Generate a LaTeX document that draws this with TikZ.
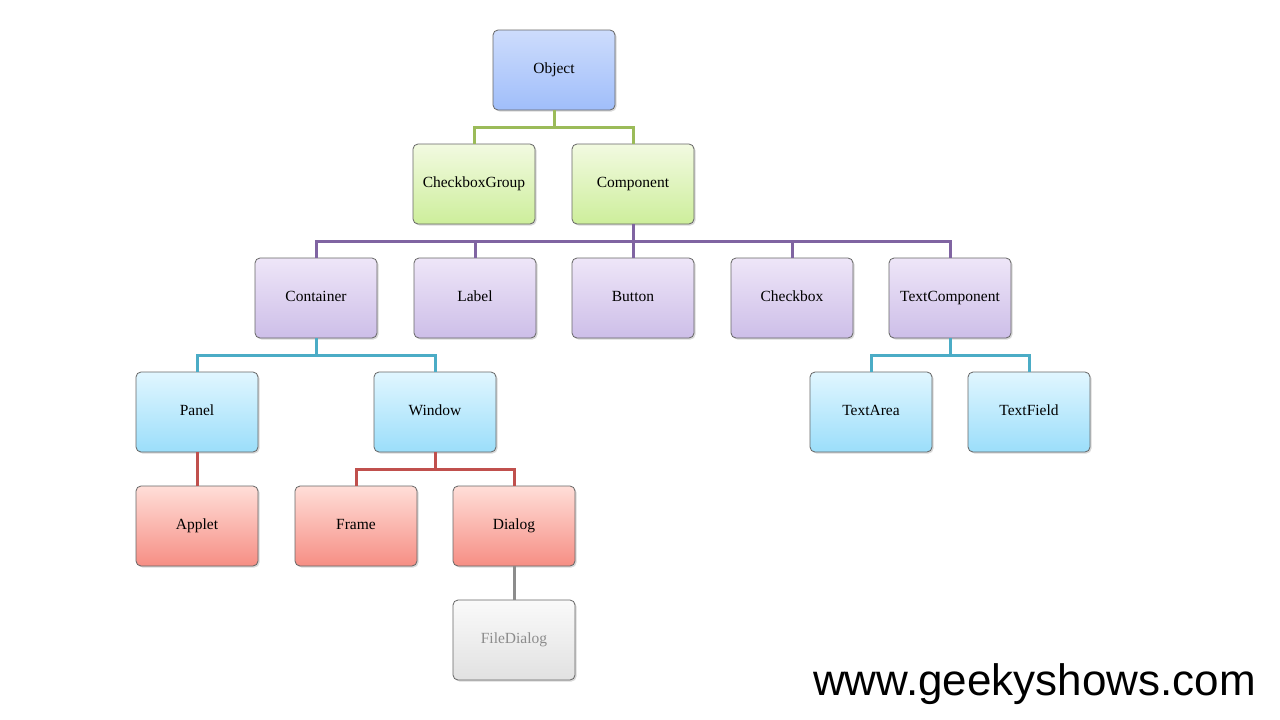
\documentclass[tikz,border=0pt]{standalone}
\usepackage{fontspec}
\setmainfont{Liberation Serif}
\newfontfamily\webfont{Liberation Sans}
\definecolor{lnG}{RGB}{155,187,89}
\definecolor{lnP}{RGB}{128,100,162}
\definecolor{lnT}{RGB}{75,172,198}
\definecolor{lnR}{RGB}{192,80,77}
\definecolor{lnK}{RGB}{140,140,140}
\usetikzlibrary{shadows}
\tikzset{
 box/.style={draw=black!60,line width=0.8pt,rounded corners=5pt,minimum width=122pt,minimum height=80pt,font=\fontsize{15.5}{18}\selectfont,inner sep=0pt,text height=10.5pt,text depth=3.5pt,drop shadow={opacity=0.3,shadow xshift=1.5pt,shadow yshift=-1.5pt}},
 bl/.style={box,top color={rgb,255:red,205;green,220;blue,252},bottom color={rgb,255:red,160;green,190;blue,250}},
 gr/.style={box,top color={rgb,255:red,242;green,250;blue,225},bottom color={rgb,255:red,205;green,238;blue,155}},
 pu/.style={box,top color={rgb,255:red,238;green,230;blue,248},bottom color={rgb,255:red,205;green,190;blue,232}},
 cy/.style={box,top color={rgb,255:red,225;green,246;blue,255},bottom color={rgb,255:red,155;green,222;blue,250}},
 rd/.style={box,top color={rgb,255:red,255;green,222;blue,216},bottom color={rgb,255:red,246;green,142;blue,132}},
 gy/.style={box,top color={rgb,255:red,250;green,250;blue,250},bottom color={rgb,255:red,225;green,225;blue,225},text=black!45},
 ln/.style={line width=3pt}}
\begin{document}
\begin{tikzpicture}[x=1pt,y=-1pt]
\useasboundingbox[fill=white] (0,0) rectangle (1280,720);
\node[bl] (obj) at (554,70) {Object};
\node[gr] (cbg) at (474,184) {CheckboxGroup};
\node[gr] (comp) at (633,184) {Component};
\node[pu] (cont) at (316,298) {Container};
\node[pu] (lab) at (475,298) {Label};
\node[pu] (but) at (633,298) {Button};
\node[pu] (chk) at (792,298) {Checkbox};
\node[pu] (tc) at (950,298) {TextComponent};
\node[cy] (pan) at (197,412) {Panel};
\node[cy] (win) at (435,412) {Window};
\node[cy] (ta) at (871,412) {TextArea};
\node[cy] (tf) at (1029,412) {TextField};
\node[rd] (app) at (197,526) {Applet};
\node[rd] (fr) at (356,526) {Frame};
\node[rd] (dlg) at (514,526) {Dialog};
\node[gy] (fd) at (514,640) {FileDialog};
\draw[ln,lnG] (obj.south) -- ++(0,17) -| (cbg.north);
\draw[ln,lnG] (obj.south) -- ++(0,17) -| (comp.north);
\foreach \n in {cont,lab,but,chk,tc}
  \draw[ln,lnP] (comp.south) -- ++(0,17) -| (\n.north);
\foreach \n in {pan,win}
  \draw[ln,lnT] (cont.south) -- ++(0,17) -| (\n.north);
\foreach \n in {ta,tf}
  \draw[ln,lnT] (tc.south) -- ++(0,17) -| (\n.north);
\draw[ln,lnR] (pan.south) -- (app.north);
\foreach \n in {fr,dlg}
  \draw[ln,lnR] (win.south) -- ++(0,17) -| (\n.north);
\draw[ln,lnK] (dlg.south) -- (fd.north);
\node[anchor=base east,font=\webfont\fontsize{44}{48}\selectfont,inner sep=0pt] (web) at (1256,695) {www.geekyshows.com};
\end{tikzpicture}
\end{document}
